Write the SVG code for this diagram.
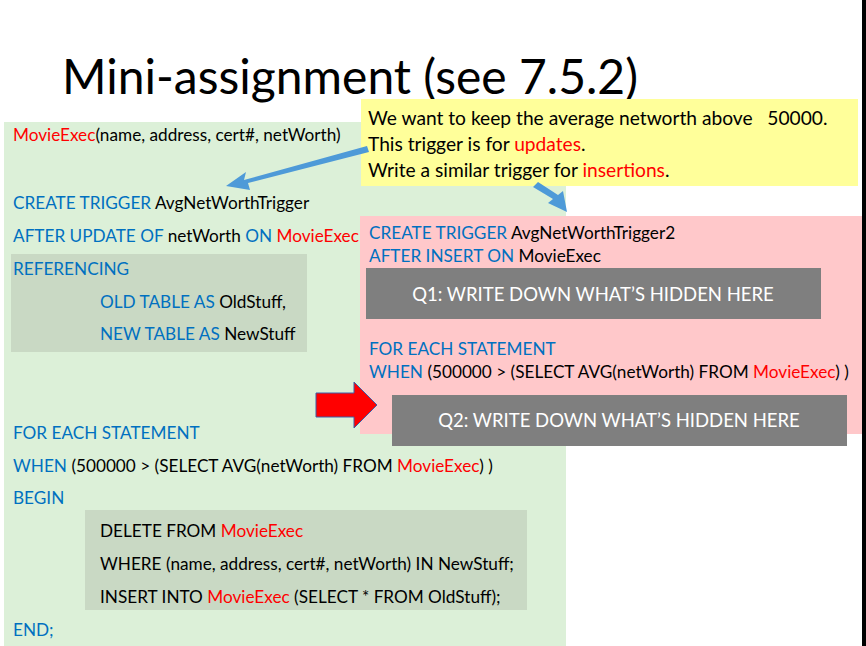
<svg xmlns="http://www.w3.org/2000/svg" width="866" height="646" viewBox="0 0 866 646">
<style>
text{font-family:Lato,"Open Sans",sans-serif;font-size:17.2px;fill:#000}
.b{fill:#0070c0}.r{fill:#ff0000}
.q{fill:#fff;font-size:18.5px}
.y{font-size:19.2px;white-space:pre}
</style>
<rect width="866" height="646" fill="#fff"/>
<rect x="862" y="0" width="4" height="646" fill="#000"/>
<text x="62" y="94" style="font-size:48px">Mini-assignment (see 7.5.2)</text>
<g id="green-panel">
<rect x="4" y="122" width="562" height="524" fill="#dcf0d8"/>
<rect x="11" y="254" width="296" height="98" fill="#c9d9c4"/>
<rect x="85" y="510" width="442" height="100" fill="#c9d9c4"/>
<text x="13" y="141"><tspan class="r">MovieExec</tspan>(name, address, cert#, netWorth)</text>
<text x="13" y="209"><tspan class="b">CREATE TRIGGER</tspan> AvgNetWorthTrigger</text>
<text x="13" y="242"><tspan class="b">AFTER UPDATE OF</tspan> netWorth <tspan class="b">ON</tspan> <tspan class="r">MovieExec</tspan></text>
<text x="13" y="275" class="b">REFERENCING</text>
<text x="100" y="308"><tspan class="b">OLD TABLE AS</tspan> OldStuff,</text>
<text x="100" y="340"><tspan class="b">NEW TABLE AS</tspan> NewStuff</text>
<text x="13" y="439" class="b">FOR EACH STATEMENT</text>
<text x="13" y="472"><tspan class="b">WHEN</tspan> (500000 &gt; (SELECT AVG(netWorth) FROM <tspan class="r">MovieExec</tspan>) )</text>
<text x="13" y="504" class="b">BEGIN</text>
<text x="100" y="537">DELETE FROM <tspan class="r">MovieExec</tspan></text>
<text x="100" y="570">WHERE (name, address, cert#, netWorth) IN NewStuff;</text>
<text x="100" y="603">INSERT INTO <tspan class="r">MovieExec</tspan> (SELECT * FROM OldStuff);</text>
<text x="13" y="636" class="b">END;</text>
</g>
<g id="pink-panel">
<rect x="360" y="216" width="502" height="218" fill="#ffc8ca"/>
<text x="369" y="239"><tspan class="b">CREATE TRIGGER</tspan> AvgNetWorthTrigger2</text>
<text x="369" y="262"><tspan class="b">AFTER INSERT ON</tspan> MovieExec</text>
<rect x="366" y="268" width="455" height="51" fill="#7f7f7f"/>
<text x="593" y="301" class="q" text-anchor="middle">Q1: WRITE DOWN WHAT’S HIDDEN HERE</text>
<text x="369" y="355" class="b">FOR EACH STATEMENT</text>
<text x="369" y="378"><tspan class="b">WHEN</tspan> (500000 &gt; (SELECT AVG(netWorth) FROM <tspan class="r">MovieExec</tspan>) )</text>
<rect x="392" y="395" width="455" height="51" fill="#7f7f7f"/>
<text x="619" y="427" class="q" text-anchor="middle">Q2: WRITE DOWN WHAT’S HIDDEN HERE</text>
</g>
<g id="note">
<rect x="361" y="99" width="497" height="87" fill="#ffff9a"/>
<text x="368" y="125" class="y">We want to keep the average networth above   50000.</text>
<text x="368" y="151" class="y">This trigger is for <tspan class="r">updates</tspan>.</text>
<text x="368" y="177" class="y">Write a similar trigger for <tspan class="r">insertions</tspan>.</text>
</g>
<g id="connectors">
<path d="M367 146 L244 180 L246 172 L226 186 L250 190 L248 183 L369 152 Z" fill="#4e9ad8"/>
<path d="M533 187 L553 199 L548 203 L567 212 L563 191 L558 195 L538 182 Z" fill="#4e9ad8"/>
<path d="M316 393 L354 393 L354 382 L377 405 L354 428 L354 417 L316 417 Z" fill="#ff0000" stroke="#3a5fa8" stroke-width="1"/>
</g>
</svg>
